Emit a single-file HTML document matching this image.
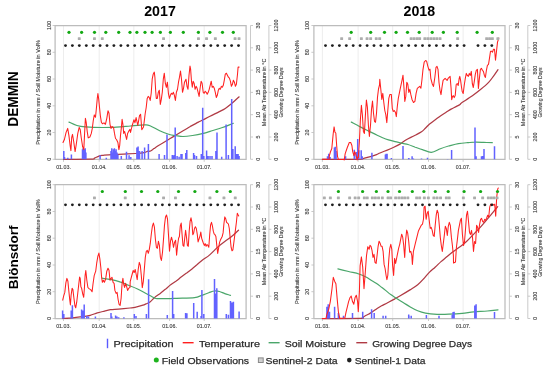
<!DOCTYPE html>
<html><head><meta charset="utf-8"><title>Demmin / Blönsdorf 2017-2018</title>
<style>html,body{margin:0;padding:0;background:#fff;overflow:hidden}svg{display:block}</style>
</head><body>
<svg width="550" height="372" viewBox="0 0 550 372" font-family='"Liberation Sans", Arial, sans-serif'>
<rect width="550" height="372" fill="#fff"/>
<text x="160" y="15.9" font-size="14.2" font-weight="bold" text-anchor="middle" fill="#000">2017</text>
<text x="419.3" y="15.9" font-size="14.2" font-weight="bold" text-anchor="middle" fill="#000">2018</text>
<text transform="translate(18.1,99) rotate(-90)" font-size="14" font-weight="bold" text-anchor="middle" fill="#000" textLength="55.5" lengthAdjust="spacingAndGlyphs">DEMMIN</text>
<text transform="translate(18.4,257.3) rotate(-90)" font-size="13.5" font-weight="bold" text-anchor="middle" fill="#000">Blönsdorf</text>
<g>
<line x1="63.5" y1="25.5" x2="63.5" y2="159.3" stroke="#e8e8e8" stroke-width="0.8"/>
<line x1="63.5" y1="159.3" x2="63.5" y2="161.8" stroke="#bcbcbc" stroke-width="0.8"/>
<line x1="99.2" y1="25.5" x2="99.2" y2="159.3" stroke="#e8e8e8" stroke-width="0.8"/>
<line x1="99.2" y1="159.3" x2="99.2" y2="161.8" stroke="#bcbcbc" stroke-width="0.8"/>
<line x1="133.8" y1="25.5" x2="133.8" y2="159.3" stroke="#e8e8e8" stroke-width="0.8"/>
<line x1="133.8" y1="159.3" x2="133.8" y2="161.8" stroke="#bcbcbc" stroke-width="0.8"/>
<line x1="169.6" y1="25.5" x2="169.6" y2="159.3" stroke="#e8e8e8" stroke-width="0.8"/>
<line x1="169.6" y1="159.3" x2="169.6" y2="161.8" stroke="#bcbcbc" stroke-width="0.8"/>
<line x1="204.2" y1="25.5" x2="204.2" y2="159.3" stroke="#e8e8e8" stroke-width="0.8"/>
<line x1="204.2" y1="159.3" x2="204.2" y2="161.8" stroke="#bcbcbc" stroke-width="0.8"/>
<path d="M55.1 25.5H246.1V159.3H55.1Z" fill="none" stroke="#bcbcbc" stroke-width="1.25"/>
<line x1="52.6" y1="159.3" x2="55.1" y2="159.3" stroke="#bcbcbc" stroke-width="0.8"/>
<text transform="translate(50.5,159.3) rotate(-90)" font-size="5.3" text-anchor="middle" fill="#454545" stroke="#454545" stroke-width="0.13">0</text>
<line x1="52.6" y1="132.5" x2="55.1" y2="132.5" stroke="#bcbcbc" stroke-width="0.8"/>
<text transform="translate(50.5,132.5) rotate(-90)" font-size="5.3" text-anchor="middle" fill="#454545" stroke="#454545" stroke-width="0.13">20</text>
<line x1="52.6" y1="105.8" x2="55.1" y2="105.8" stroke="#bcbcbc" stroke-width="0.8"/>
<text transform="translate(50.5,105.8) rotate(-90)" font-size="5.3" text-anchor="middle" fill="#454545" stroke="#454545" stroke-width="0.13">40</text>
<line x1="52.6" y1="79" x2="55.1" y2="79" stroke="#bcbcbc" stroke-width="0.8"/>
<text transform="translate(50.5,79) rotate(-90)" font-size="5.3" text-anchor="middle" fill="#454545" stroke="#454545" stroke-width="0.13">60</text>
<line x1="52.6" y1="52.3" x2="55.1" y2="52.3" stroke="#bcbcbc" stroke-width="0.8"/>
<text transform="translate(50.5,52.3) rotate(-90)" font-size="5.3" text-anchor="middle" fill="#454545" stroke="#454545" stroke-width="0.13">80</text>
<line x1="52.6" y1="25.5" x2="55.1" y2="25.5" stroke="#bcbcbc" stroke-width="0.8"/>
<text transform="translate(50.5,25.5) rotate(-90)" font-size="5.3" text-anchor="middle" fill="#454545" stroke="#454545" stroke-width="0.13">100</text>
<text transform="translate(39.7,92.4) rotate(-90)" font-size="5.6" text-anchor="middle" fill="#454545" stroke="#454545" stroke-width="0.13">Precipitation in mm / Soil Moisture in Vol%</text>
<line x1="250.5" y1="25.5" x2="250.5" y2="159.3" stroke="#bcbcbc" stroke-width="0.8"/>
<line x1="250.5" y1="159.3" x2="253" y2="159.3" stroke="#bcbcbc" stroke-width="0.8"/>
<text transform="translate(259.9,159.3) rotate(-90)" font-size="5.3" text-anchor="middle" fill="#454545" stroke="#454545" stroke-width="0.13">0</text>
<line x1="250.5" y1="137" x2="253" y2="137" stroke="#bcbcbc" stroke-width="0.8"/>
<text transform="translate(259.9,137) rotate(-90)" font-size="5.3" text-anchor="middle" fill="#454545" stroke="#454545" stroke-width="0.13">5</text>
<line x1="250.5" y1="114.7" x2="253" y2="114.7" stroke="#bcbcbc" stroke-width="0.8"/>
<text transform="translate(259.9,114.7) rotate(-90)" font-size="5.3" text-anchor="middle" fill="#454545" stroke="#454545" stroke-width="0.13">10</text>
<line x1="250.5" y1="92.4" x2="253" y2="92.4" stroke="#bcbcbc" stroke-width="0.8"/>
<text transform="translate(259.9,92.4) rotate(-90)" font-size="5.3" text-anchor="middle" fill="#454545" stroke="#454545" stroke-width="0.13">15</text>
<line x1="250.5" y1="70.1" x2="253" y2="70.1" stroke="#bcbcbc" stroke-width="0.8"/>
<text transform="translate(259.9,70.1) rotate(-90)" font-size="5.3" text-anchor="middle" fill="#454545" stroke="#454545" stroke-width="0.13">20</text>
<line x1="250.5" y1="47.8" x2="253" y2="47.8" stroke="#bcbcbc" stroke-width="0.8"/>
<text transform="translate(259.9,47.8) rotate(-90)" font-size="5.3" text-anchor="middle" fill="#454545" stroke="#454545" stroke-width="0.13">25</text>
<line x1="250.5" y1="25.5" x2="253" y2="25.5" stroke="#bcbcbc" stroke-width="0.8"/>
<text transform="translate(259.9,25.5) rotate(-90)" font-size="5.3" text-anchor="middle" fill="#454545" stroke="#454545" stroke-width="0.13">30</text>
<text transform="translate(265.9,92.4) rotate(-90)" font-size="5.5" text-anchor="middle" fill="#454545" stroke="#454545" stroke-width="0.13">Mean Air Temperature in °C</text>
<line x1="268.9" y1="25.5" x2="268.9" y2="159.3" stroke="#bcbcbc" stroke-width="0.8"/>
<line x1="268.9" y1="159.3" x2="271.4" y2="159.3" stroke="#bcbcbc" stroke-width="0.8"/>
<text transform="translate(277.8,159.3) rotate(-90)" font-size="5.3" text-anchor="middle" fill="#454545" stroke="#454545" stroke-width="0.13">0</text>
<line x1="268.9" y1="137" x2="271.4" y2="137" stroke="#bcbcbc" stroke-width="0.8"/>
<text transform="translate(277.8,137) rotate(-90)" font-size="5.3" text-anchor="middle" fill="#454545" stroke="#454545" stroke-width="0.13">200</text>
<line x1="268.9" y1="114.7" x2="271.4" y2="114.7" stroke="#bcbcbc" stroke-width="0.8"/>
<text transform="translate(277.8,114.7) rotate(-90)" font-size="5.3" text-anchor="middle" fill="#454545" stroke="#454545" stroke-width="0.13">400</text>
<line x1="268.9" y1="92.4" x2="271.4" y2="92.4" stroke="#bcbcbc" stroke-width="0.8"/>
<text transform="translate(277.8,92.4) rotate(-90)" font-size="5.3" text-anchor="middle" fill="#454545" stroke="#454545" stroke-width="0.13">600</text>
<line x1="268.9" y1="70.1" x2="271.4" y2="70.1" stroke="#bcbcbc" stroke-width="0.8"/>
<text transform="translate(277.8,70.1) rotate(-90)" font-size="5.3" text-anchor="middle" fill="#454545" stroke="#454545" stroke-width="0.13">800</text>
<line x1="268.9" y1="47.8" x2="271.4" y2="47.8" stroke="#bcbcbc" stroke-width="0.8"/>
<text transform="translate(277.8,47.8) rotate(-90)" font-size="5.3" text-anchor="middle" fill="#454545" stroke="#454545" stroke-width="0.13">1000</text>
<line x1="268.9" y1="25.5" x2="271.4" y2="25.5" stroke="#bcbcbc" stroke-width="0.8"/>
<text transform="translate(277.8,25.5) rotate(-90)" font-size="5.3" text-anchor="middle" fill="#454545" stroke="#454545" stroke-width="0.13">1200</text>
<text transform="translate(282.9,92.4) rotate(-90)" font-size="5.1" text-anchor="middle" fill="#454545" stroke="#454545" stroke-width="0.13">Growing Degree Days</text>
<text x="63.5" y="168.5" font-size="5.3" text-anchor="middle" fill="#454545" stroke="#454545" stroke-width="0.13">01.03.</text>
<text x="99.2" y="168.5" font-size="5.3" text-anchor="middle" fill="#454545" stroke="#454545" stroke-width="0.13">01.04.</text>
<text x="133.8" y="168.5" font-size="5.3" text-anchor="middle" fill="#454545" stroke="#454545" stroke-width="0.13">01.05.</text>
<text x="169.6" y="168.5" font-size="5.3" text-anchor="middle" fill="#454545" stroke="#454545" stroke-width="0.13">01.06.</text>
<text x="204.2" y="168.5" font-size="5.3" text-anchor="middle" fill="#454545" stroke="#454545" stroke-width="0.13">01.07.</text>
<path d="M63.5 159.3C68.1 159.3 85.7 159.4 90.9 159.2C96.1 159 93.2 158.7 94.5 158.2C95.8 157.7 97.4 156.6 98.9 156.1C100.4 155.6 101.1 155.6 103.3 155.3C105.5 155.1 108.6 154.8 112 154.6C115.4 154.4 119.7 154.3 123.6 154.1C127.5 153.9 131.9 153.7 135.3 153.5C138.7 153.3 141.8 153.1 144 152.7C146.2 152.3 147.4 151.1 148.4 150.9C149.4 150.7 149.1 151.7 150 151.3C150.9 150.9 152.7 149.5 154 148.6C155.3 147.7 156.1 147.1 158.1 145.8C160.1 144.5 163.4 142.6 166.1 141C168.8 139.4 171.5 137.7 174.2 136.1C176.9 134.5 179.6 132.9 182.3 131.3C185 129.7 187.6 128 190.3 126.5C193 125 196.2 123.2 198.4 122.1C200.6 121 201.3 120.8 203.2 119.8C205.1 118.8 207.3 117.6 210 116.2C212.7 114.8 216.8 112.9 219.3 111.6C221.9 110.3 223.3 109.7 225.3 108.4C227.3 107.1 229.1 105.7 231.4 103.8C233.7 101.9 237.8 98 239.1 96.8" stroke="#b03a44" stroke-width="1.25" fill="none" stroke-linejoin="round" stroke-linecap="round"/>
<path d="M69 122.1C70.3 122.7 74.2 124.7 76.9 125.5C79.6 126.3 81.2 126.6 85.4 126.9C89.6 127.2 97.1 127.5 102.3 127.5C107.5 127.5 111.7 127.5 116.4 127.2C121.1 127 125.8 126.4 130.5 126C135.2 125.6 141.3 125 144.6 124.9C147.8 124.9 147.5 124.7 150 125.7C152.5 126.7 156.5 129.2 159.7 130.7C162.9 132.2 166.8 133.7 169.4 134.5C172 135.3 172.9 135.2 175.2 135.5C177.5 135.8 180.1 136.5 183 136.5C185.9 136.5 189.4 136 192.6 135.5C195.8 135 199.1 134.4 202.3 133.6C205.5 132.8 208.8 131.7 212 130.7C215.2 129.7 218.8 128.8 221.7 127.8C224.6 126.8 227.5 125.7 229.4 124.9C231.3 124.2 232.7 123.6 233.3 123.3" stroke="#4aa66a" stroke-width="1.2" fill="none" stroke-linejoin="round" stroke-linecap="round"/>
<path d="M63.8 159.3V150.9M64.5 159.3V157M67.8 159.3V157.8M71.4 159.3V154.4M82.5 159.3V149.2M83.1 159.3V148.3M83.8 159.3V149.2M84.5 159.3V150.9M85.2 159.3V148.3M85.9 159.3V152.6M100.1 159.3V155.2M106.3 159.3V157.8M111 159.3V150.9M111.8 159.3V148.3M112.7 159.3V152.6M113.5 159.3V149.2M114.4 159.3V148.3M115.3 159.3V150.9M116.1 159.3V149.2M117 159.3V152.6M117.9 159.3V154.4M121.3 159.3V156.1M126.5 159.3V151.8M129.1 159.3V155.2M130.8 159.3V157M136.9 159.3V147.5M138.1 159.3V146.6M139.5 159.3V150.9M142.1 159.3V150.9M144.6 159.3V147.5M148.4 159.3V144M159.1 159.3V153.9M164.5 159.3V154.9M167 159.3V134.5M172.3 159.3V154.9M173.2 159.3V155.5M174.2 159.3V154.9M175.2 159.3V127.4M177.1 159.3V155.9M179.1 159.3V156.8M181 159.3V153.9M182 159.3V153.9M185.8 159.3V152.9M186.8 159.3V150M193.6 159.3V152.9M194.5 159.3V154.9M196.5 159.3V155.9M201.3 159.3V153.9M202.7 159.3V107.8M203.8 159.3V155.9M206.6 159.3V150.4M208.1 159.3V155.9M210 159.3V155.9M212 159.3V155.9M215.9 159.3V151M217 159.3V132.6M221.7 159.3V156.8M226.1 159.3V124.5M228.4 159.3V154.9M231.7 159.3V99.1M232.9 159.3V149.1M235.2 159.3V146.2M236.2 159.3V153.9M237.2 159.3V153.9M238.1 159.3V153.9M239.1 159.3V155.9" stroke="#6262ff" stroke-width="1.5" fill="none"/>
<path d="M63 142.5 64.4 139.5 66.1 132.4 67.7 128.4 68.9 135.4 70.1 145.5 70.9 150.6 71.7 137.5 72.5 134.4 73.7 141.5 75.1 151.6 76.1 145.5 77.8 133.4 79.2 127.4 80.2 129.4 81.2 137.5 82.6 146.5 83.8 149.6 84.6 133.4 85.4 118.3 86.2 122.3 87.2 131.4 88.2 137.9 89.9 137 91.3 133.4 92.3 128.4 93.3 120.3 94.3 114.9 95.5 117.3 96.3 109.2 97.3 98.1 97.9 93.5 98.7 99.1 99.5 107.2 100.3 115.3 101.4 122.3 102.4 123.7 104 122.9 105.4 124.3 106.8 118.3 108 110.8 109 113.2 110 124.3 111 128.4 112 126.4 113.5 127.4 114.5 133.4 115.5 138.5 116.5 139.5 117.9 142.5 118.9 149.6 119.7 145.5 120.5 135.4 121.5 126.4 122.1 119.3 122.9 124.3 123.7 133.4 124.6 131.4 125.6 135.4 126.6 139.5 127.6 133.4 128.6 131.4 130 129.4 130.5 132.5 132.2 125.5 133.9 119.8 135 122.7 136.1 117.6 137.8 125.5 139.5 115.6 140.6 114.2 141.8 129.7 143.5 126.9 144.2 121.6 145.2 113.5 146.2 107.5 147.2 98.4 148.2 96.4 149.2 97.4 150.2 100.4 151.2 93.3 152.2 79.2 153.2 74.2 154.3 72.1 154.9 77.2 155.7 91.3 156.3 98.4 157.3 98.4 158.3 92.3 159.3 90.3 160.3 104.4 161.3 99.4 162.3 92.3 163.3 79.2 164.3 73.2 165.3 83.2 166.4 87.3 167.4 82.2 168.4 93.3 169.4 98.4 170.4 95.3 171.4 93.3 172.4 94.3 173.4 92.3 174.4 95.3 175.4 100.4 176.4 92.3 177.5 89.3 178.5 82.2 179.5 77.2 180.5 71.1 181.5 79.2 182.5 92.3 183.5 88.3 184.5 82.2 185 81.2 186 79.2 187 86.3 188 89.3 189 75.2 190 66.1 190.6 69.1 191.5 81.2 192.3 87.3 193.1 81.2 194.1 83.2 195.1 89.3 196.1 86.3 197.1 88.3 198.1 92.3 199.1 96.4 200.1 88.3 201.1 81.2 202.1 83.2 203.2 92.3 204.2 93.3 205.2 91.3 206.2 92.3 207.2 94.3 208.2 92.3 209.2 89.3 210.2 85.3 211.2 81.2 212.2 87.3 213.2 86.3 214.3 88.3 215.3 92.3 216.3 97.4 217.3 95.3 218.3 90.3 219.3 88.3 220.3 89.3 221.3 86.3 222.3 87.3 223.3 85.3 224.3 80.2 225.3 74.2 226.4 73.2 227.4 75.2 228.4 77.2 229.4 78.2 230.4 81.2 231.4 86.3 232.4 84.3 233.4 80.2 234.4 82.2 235.4 86.3 236.4 84.3 237.5 74.2 238.1 67.1 239.1 67.1" stroke="#ff2020" stroke-width="1.05" fill="none" stroke-linejoin="round" stroke-linecap="round"/>
<circle cx="69" cy="32.3" r="1.6" fill="#12a812"/>
<circle cx="81.6" cy="32.3" r="1.6" fill="#12a812"/>
<circle cx="94.5" cy="32.3" r="1.6" fill="#12a812"/>
<circle cx="105.8" cy="32.3" r="1.6" fill="#12a812"/>
<circle cx="118.7" cy="32.3" r="1.6" fill="#12a812"/>
<circle cx="130" cy="32.3" r="1.6" fill="#12a812"/>
<circle cx="136.9" cy="32.3" r="1.6" fill="#12a812"/>
<circle cx="145" cy="32.3" r="1.6" fill="#12a812"/>
<circle cx="152.1" cy="32.3" r="1.6" fill="#12a812"/>
<circle cx="160.4" cy="32.3" r="1.6" fill="#12a812"/>
<circle cx="170.4" cy="32.3" r="1.6" fill="#12a812"/>
<circle cx="183.3" cy="32.3" r="1.6" fill="#12a812"/>
<circle cx="198.4" cy="32.3" r="1.6" fill="#12a812"/>
<circle cx="209.9" cy="32.3" r="1.6" fill="#12a812"/>
<circle cx="222.5" cy="32.3" r="1.6" fill="#12a812"/>
<circle cx="233.3" cy="32.3" r="1.6" fill="#12a812"/>
<rect x="77.8" y="37.2" width="2.9" height="2.9" rx="0.5" fill="#adadad"/>
<rect x="93" y="37.2" width="2.9" height="2.9" rx="0.5" fill="#adadad"/>
<rect x="100.8" y="37.2" width="2.9" height="2.9" rx="0.5" fill="#adadad"/>
<rect x="162.1" y="37.2" width="2.9" height="2.9" rx="0.5" fill="#adadad"/>
<rect x="197" y="37.2" width="2.9" height="2.9" rx="0.5" fill="#adadad"/>
<rect x="205.1" y="37.2" width="2.9" height="2.9" rx="0.5" fill="#adadad"/>
<rect x="213.9" y="37.2" width="2.9" height="2.9" rx="0.5" fill="#adadad"/>
<rect x="233.6" y="37.2" width="2.9" height="2.9" rx="0.5" fill="#adadad"/>
<rect x="237.6" y="37.2" width="2.9" height="2.9" rx="0.5" fill="#adadad"/>
<circle cx="65.5" cy="45.6" r="1.42" fill="#1e1e1e"/>
<circle cx="72.4" cy="45.6" r="1.42" fill="#1e1e1e"/>
<circle cx="79.3" cy="45.6" r="1.42" fill="#1e1e1e"/>
<circle cx="86.3" cy="45.6" r="1.42" fill="#1e1e1e"/>
<circle cx="93.2" cy="45.6" r="1.42" fill="#1e1e1e"/>
<circle cx="100.1" cy="45.6" r="1.42" fill="#1e1e1e"/>
<circle cx="107" cy="45.6" r="1.42" fill="#1e1e1e"/>
<circle cx="113.9" cy="45.6" r="1.42" fill="#1e1e1e"/>
<circle cx="120.9" cy="45.6" r="1.42" fill="#1e1e1e"/>
<circle cx="127.8" cy="45.6" r="1.42" fill="#1e1e1e"/>
<circle cx="134.7" cy="45.6" r="1.42" fill="#1e1e1e"/>
<circle cx="141.6" cy="45.6" r="1.42" fill="#1e1e1e"/>
<circle cx="148.5" cy="45.6" r="1.42" fill="#1e1e1e"/>
<circle cx="155.5" cy="45.6" r="1.42" fill="#1e1e1e"/>
<circle cx="162.4" cy="45.6" r="1.42" fill="#1e1e1e"/>
<circle cx="169.3" cy="45.6" r="1.42" fill="#1e1e1e"/>
<circle cx="176.2" cy="45.6" r="1.42" fill="#1e1e1e"/>
<circle cx="183.1" cy="45.6" r="1.42" fill="#1e1e1e"/>
<circle cx="190.1" cy="45.6" r="1.42" fill="#1e1e1e"/>
<circle cx="197" cy="45.6" r="1.42" fill="#1e1e1e"/>
<circle cx="203.9" cy="45.6" r="1.42" fill="#1e1e1e"/>
<circle cx="210.8" cy="45.6" r="1.42" fill="#1e1e1e"/>
<circle cx="217.7" cy="45.6" r="1.42" fill="#1e1e1e"/>
<circle cx="224.7" cy="45.6" r="1.42" fill="#1e1e1e"/>
<circle cx="231.6" cy="45.6" r="1.42" fill="#1e1e1e"/>
<circle cx="238.5" cy="45.6" r="1.42" fill="#1e1e1e"/>
</g>
<g>
<line x1="322.4" y1="25.5" x2="322.4" y2="159.3" stroke="#e8e8e8" stroke-width="0.8"/>
<line x1="322.4" y1="159.3" x2="322.4" y2="161.8" stroke="#bcbcbc" stroke-width="0.8"/>
<line x1="358.1" y1="25.5" x2="358.1" y2="159.3" stroke="#e8e8e8" stroke-width="0.8"/>
<line x1="358.1" y1="159.3" x2="358.1" y2="161.8" stroke="#bcbcbc" stroke-width="0.8"/>
<line x1="392.7" y1="25.5" x2="392.7" y2="159.3" stroke="#e8e8e8" stroke-width="0.8"/>
<line x1="392.7" y1="159.3" x2="392.7" y2="161.8" stroke="#bcbcbc" stroke-width="0.8"/>
<line x1="428.5" y1="25.5" x2="428.5" y2="159.3" stroke="#e8e8e8" stroke-width="0.8"/>
<line x1="428.5" y1="159.3" x2="428.5" y2="161.8" stroke="#bcbcbc" stroke-width="0.8"/>
<line x1="463.1" y1="25.5" x2="463.1" y2="159.3" stroke="#e8e8e8" stroke-width="0.8"/>
<line x1="463.1" y1="159.3" x2="463.1" y2="161.8" stroke="#bcbcbc" stroke-width="0.8"/>
<path d="M313.9 25.5H505V159.3H313.9Z" fill="none" stroke="#bcbcbc" stroke-width="1.25"/>
<line x1="311.4" y1="159.3" x2="313.9" y2="159.3" stroke="#bcbcbc" stroke-width="0.8"/>
<text transform="translate(309.3,159.3) rotate(-90)" font-size="5.3" text-anchor="middle" fill="#454545" stroke="#454545" stroke-width="0.13">0</text>
<line x1="311.4" y1="132.5" x2="313.9" y2="132.5" stroke="#bcbcbc" stroke-width="0.8"/>
<text transform="translate(309.3,132.5) rotate(-90)" font-size="5.3" text-anchor="middle" fill="#454545" stroke="#454545" stroke-width="0.13">20</text>
<line x1="311.4" y1="105.8" x2="313.9" y2="105.8" stroke="#bcbcbc" stroke-width="0.8"/>
<text transform="translate(309.3,105.8) rotate(-90)" font-size="5.3" text-anchor="middle" fill="#454545" stroke="#454545" stroke-width="0.13">40</text>
<line x1="311.4" y1="79" x2="313.9" y2="79" stroke="#bcbcbc" stroke-width="0.8"/>
<text transform="translate(309.3,79) rotate(-90)" font-size="5.3" text-anchor="middle" fill="#454545" stroke="#454545" stroke-width="0.13">60</text>
<line x1="311.4" y1="52.3" x2="313.9" y2="52.3" stroke="#bcbcbc" stroke-width="0.8"/>
<text transform="translate(309.3,52.3) rotate(-90)" font-size="5.3" text-anchor="middle" fill="#454545" stroke="#454545" stroke-width="0.13">80</text>
<line x1="311.4" y1="25.5" x2="313.9" y2="25.5" stroke="#bcbcbc" stroke-width="0.8"/>
<text transform="translate(309.3,25.5) rotate(-90)" font-size="5.3" text-anchor="middle" fill="#454545" stroke="#454545" stroke-width="0.13">100</text>
<text transform="translate(298.5,92.4) rotate(-90)" font-size="5.6" text-anchor="middle" fill="#454545" stroke="#454545" stroke-width="0.13">Precipitation in mm / Soil Moisture in Vol%</text>
<line x1="509.4" y1="25.5" x2="509.4" y2="159.3" stroke="#bcbcbc" stroke-width="0.8"/>
<line x1="509.4" y1="159.3" x2="511.9" y2="159.3" stroke="#bcbcbc" stroke-width="0.8"/>
<text transform="translate(518.8,159.3) rotate(-90)" font-size="5.3" text-anchor="middle" fill="#454545" stroke="#454545" stroke-width="0.13">0</text>
<line x1="509.4" y1="137" x2="511.9" y2="137" stroke="#bcbcbc" stroke-width="0.8"/>
<text transform="translate(518.8,137) rotate(-90)" font-size="5.3" text-anchor="middle" fill="#454545" stroke="#454545" stroke-width="0.13">5</text>
<line x1="509.4" y1="114.7" x2="511.9" y2="114.7" stroke="#bcbcbc" stroke-width="0.8"/>
<text transform="translate(518.8,114.7) rotate(-90)" font-size="5.3" text-anchor="middle" fill="#454545" stroke="#454545" stroke-width="0.13">10</text>
<line x1="509.4" y1="92.4" x2="511.9" y2="92.4" stroke="#bcbcbc" stroke-width="0.8"/>
<text transform="translate(518.8,92.4) rotate(-90)" font-size="5.3" text-anchor="middle" fill="#454545" stroke="#454545" stroke-width="0.13">15</text>
<line x1="509.4" y1="70.1" x2="511.9" y2="70.1" stroke="#bcbcbc" stroke-width="0.8"/>
<text transform="translate(518.8,70.1) rotate(-90)" font-size="5.3" text-anchor="middle" fill="#454545" stroke="#454545" stroke-width="0.13">20</text>
<line x1="509.4" y1="47.8" x2="511.9" y2="47.8" stroke="#bcbcbc" stroke-width="0.8"/>
<text transform="translate(518.8,47.8) rotate(-90)" font-size="5.3" text-anchor="middle" fill="#454545" stroke="#454545" stroke-width="0.13">25</text>
<line x1="509.4" y1="25.5" x2="511.9" y2="25.5" stroke="#bcbcbc" stroke-width="0.8"/>
<text transform="translate(518.8,25.5) rotate(-90)" font-size="5.3" text-anchor="middle" fill="#454545" stroke="#454545" stroke-width="0.13">30</text>
<text transform="translate(524.8,92.4) rotate(-90)" font-size="5.5" text-anchor="middle" fill="#454545" stroke="#454545" stroke-width="0.13">Mean Air Temperature in °C</text>
<line x1="527.8" y1="25.5" x2="527.8" y2="159.3" stroke="#bcbcbc" stroke-width="0.8"/>
<line x1="527.8" y1="159.3" x2="530.3" y2="159.3" stroke="#bcbcbc" stroke-width="0.8"/>
<text transform="translate(536.7,159.3) rotate(-90)" font-size="5.3" text-anchor="middle" fill="#454545" stroke="#454545" stroke-width="0.13">0</text>
<line x1="527.8" y1="137" x2="530.3" y2="137" stroke="#bcbcbc" stroke-width="0.8"/>
<text transform="translate(536.7,137) rotate(-90)" font-size="5.3" text-anchor="middle" fill="#454545" stroke="#454545" stroke-width="0.13">200</text>
<line x1="527.8" y1="114.7" x2="530.3" y2="114.7" stroke="#bcbcbc" stroke-width="0.8"/>
<text transform="translate(536.7,114.7) rotate(-90)" font-size="5.3" text-anchor="middle" fill="#454545" stroke="#454545" stroke-width="0.13">400</text>
<line x1="527.8" y1="92.4" x2="530.3" y2="92.4" stroke="#bcbcbc" stroke-width="0.8"/>
<text transform="translate(536.7,92.4) rotate(-90)" font-size="5.3" text-anchor="middle" fill="#454545" stroke="#454545" stroke-width="0.13">600</text>
<line x1="527.8" y1="70.1" x2="530.3" y2="70.1" stroke="#bcbcbc" stroke-width="0.8"/>
<text transform="translate(536.7,70.1) rotate(-90)" font-size="5.3" text-anchor="middle" fill="#454545" stroke="#454545" stroke-width="0.13">800</text>
<line x1="527.8" y1="47.8" x2="530.3" y2="47.8" stroke="#bcbcbc" stroke-width="0.8"/>
<text transform="translate(536.7,47.8) rotate(-90)" font-size="5.3" text-anchor="middle" fill="#454545" stroke="#454545" stroke-width="0.13">1000</text>
<line x1="527.8" y1="25.5" x2="530.3" y2="25.5" stroke="#bcbcbc" stroke-width="0.8"/>
<text transform="translate(536.7,25.5) rotate(-90)" font-size="5.3" text-anchor="middle" fill="#454545" stroke="#454545" stroke-width="0.13">1200</text>
<text transform="translate(541.8,92.4) rotate(-90)" font-size="5.1" text-anchor="middle" fill="#454545" stroke="#454545" stroke-width="0.13">Growing Degree Days</text>
<text x="322.4" y="168.5" font-size="5.3" text-anchor="middle" fill="#454545" stroke="#454545" stroke-width="0.13">01.03.</text>
<text x="358.1" y="168.5" font-size="5.3" text-anchor="middle" fill="#454545" stroke="#454545" stroke-width="0.13">01.04.</text>
<text x="392.7" y="168.5" font-size="5.3" text-anchor="middle" fill="#454545" stroke="#454545" stroke-width="0.13">01.05.</text>
<text x="428.5" y="168.5" font-size="5.3" text-anchor="middle" fill="#454545" stroke="#454545" stroke-width="0.13">01.06.</text>
<text x="463.1" y="168.5" font-size="5.3" text-anchor="middle" fill="#454545" stroke="#454545" stroke-width="0.13">01.07.</text>
<path d="M322.4 159.3C328.4 159.3 351.3 159.6 358.3 159.4C365.3 159.2 362.4 158.7 364.4 158.2C366.4 157.7 368.5 157.2 370.5 156.6C372.5 156 374.9 155.2 376.5 154.6C378.1 154 378.3 153.7 380 153C381.7 152.3 384.5 151.2 386.7 150.3C388.9 149.4 391.1 148.5 393.3 147.5C395.5 146.5 398 145.3 400 144.1C402 142.9 403.6 141.4 405.4 140.3C407.2 139.2 409 138.3 410.8 137.4C412.6 136.5 414.4 135.6 416.2 134.7C418 133.8 419.9 132.9 421.5 131.8C423.1 130.7 424.2 129.3 425.6 128C427 126.7 428 125.2 429.6 123.9C431.2 122.6 433.2 121.2 435 119.9C436.8 118.6 438.6 117.1 440.4 115.9C442.2 114.7 444 113.6 445.8 112.5C447.6 111.4 449.3 110.1 451.1 109.1C452.9 108.1 455 107.2 456.5 106.4C458 105.6 459.1 105.1 460 104.4C460.9 103.8 459.9 103.9 462 102.5C464.1 101.1 469.3 98 472.4 95.8C475.5 93.6 477.8 91.8 480.5 89.6C483.2 87.4 486.4 84.7 488.6 82.4C490.8 80.1 492.3 77.7 493.9 75.6C495.5 73.5 497.3 70.7 498 69.7" stroke="#b03a44" stroke-width="1.25" fill="none" stroke-linejoin="round" stroke-linecap="round"/>
<path d="M351.3 122.1C352.8 122.9 357.4 125.4 360.3 126.9C363.2 128.4 365.9 129.7 368.7 131.1C371.5 132.5 374.4 134 377.2 135.3C380 136.6 382.9 138 385.7 139C388.5 140 391.3 140.6 394.1 141.3C396.9 142 400.3 142.9 402.6 143.4C404.9 143.9 405.9 143.9 408 144.5C410.1 145.1 412.8 146.3 415.2 147.2C417.6 148 419.7 148.8 422.4 149.6C425.1 150.4 428.4 152.5 431.4 152.3C434.4 152.2 437.4 149.8 440.4 148.7C443.4 147.6 446.4 146.7 449.4 145.8C452.4 145 455.4 144.1 458.4 143.6C461.4 143.1 464.7 142.9 467.4 142.7C470.1 142.5 472 142.2 474.7 142.2C477.4 142.1 480.8 142.3 483.7 142.4C486.6 142.5 490.9 142.6 492.3 142.7" stroke="#4aa66a" stroke-width="1.2" fill="none" stroke-linejoin="round" stroke-linecap="round"/>
<path d="M327.5 159.3V156.3M328.7 159.3V153.7M330.1 159.3V157.1M334.4 159.3V147.6M335.3 159.3V146.8M336.1 159.3V151.1M345.6 159.3V156.3M354.3 159.3V149.7M356.3 159.3V152M357.7 159.3V139M358.9 159.3V150.2M361.2 159.3V150.2M362.2 159.3V156.3M371.9 159.3V152.8M385.4 159.3V154.5M386.2 159.3V153.7M387.1 159.3V153.7M391.4 159.3V158M403 159.3V145.9M408.7 159.3V158M412.1 159.3V156.3M408.9 159.3V158.1M413.4 159.3V158.4M421.5 159.3V158.4M427.5 159.3V157.7M447.6 159.3V159M451.6 159.3V149.9M475 159.3V127.4M476.1 159.3V156.3M481.5 159.3V156.3M482.8 159.3V155.9M484 159.3V149M494.5 159.3V146.3" stroke="#6262ff" stroke-width="1.5" fill="none"/>
<path d="M322.4 159.3 329.2 159.2 329.2 156.3 330.4 152 331.8 148.5 333.2 133.8 334.1 126.9 334.9 132.1 335.8 133 336.7 145.9 337.5 156.3 338.4 159.4 343.9 159.4 344.2 160 345.2 153.6 347.3 147.5 349.3 142.5 350.7 142.5 351.9 145.5 352.7 151.6 353.9 155.6 354.7 151.6 355.9 154.6 357.1 160 357.7 157.1 358.3 157.6 359.4 141.5 360.4 119.3 361.4 105.2 362.4 115.3 363.4 131.4 364.4 133.4 365.4 115.3 366.4 100.1 367.4 107.2 368.4 125.3 369.4 136.4 370.5 125.3 371.5 109.2 372.5 101.1 373.5 113.2 374.5 121.3 375.5 122.3 376.5 113.2 377.5 97.1 378.5 89 379.5 85 379.8 79.3 380.8 89.3 381.8 99.4 382.8 93.4 383.8 102.5 384.8 110.5 385.8 114.6 386.8 122.6 387.8 110.5 388.8 98.4 389.9 94.4 391.3 94.4 392.3 108.5 393.3 111.5 394.3 110.5 395.5 112.5 396.3 116.6 397.3 106.5 398.3 98.4 400.3 88.3 402 80.3 403 75.2 404 88.3 404.8 101.4 405.8 96.4 406.8 82.3 407.8 84.3 408.8 92.4 409.8 89.3 410.8 94.4 412 99.4 413.5 102.5 414.9 101.4 416.1 93.4 417.3 88.3 418.5 87.3 419.7 86.3 420.9 88.3 421.9 80.3 422.9 70.2 424.2 62.1 425.6 60.5 426.6 61.1 427.8 66.1 429 70.2 430 69.2 430.8 78.3 432.2 83.7 433.5 86.4 434.9 77 436 67.3 437 66.3 438 69.3 439 82.5 440 90.5 441 94.6 442.1 86.5 443.1 80.4 444.1 79.4 445.1 78.4 446.1 79.4 447.1 80.4 448.1 78.4 449.1 77.4 450.1 76.4 451.1 88.5 451.7 99.6 452.5 96.6 453.3 95.6 454.2 97.6 455.2 95.6 456.2 84.5 457.2 83.5 458.2 85.5 459.2 78.4 459.8 76.4 460.6 80.4 461.4 86.5 462.2 91.5 463.2 93.5 464.2 85.5 465.3 78.4 466.3 73.4 467.3 75.4 468.3 76.4 469.3 73.4 470.3 75.4 471.3 71.4 472.3 83.5 473.3 87.5 474.3 81.4 475.3 74.4 476.3 70.3 477.4 69.3 478.4 88.5 479.4 78.4 480.4 69.3 481.4 68.3 482.4 70.3 483.4 71.4 484.4 75.4 485.4 77.4 486.4 70.3 487.4 65.3 488.5 64.3 489.5 58.2 490.5 51.2 491.5 51.2 492.5 52.2 493.5 49.2 494.5 49.2 495.5 60.3 496.5 51.2 497.5 42.1 498.5 39.1 498.8 38.1" stroke="#ff2020" stroke-width="1.05" fill="none" stroke-linejoin="round" stroke-linecap="round"/>
<circle cx="351.2" cy="32.3" r="1.6" fill="#12a812"/>
<circle cx="370.7" cy="32.3" r="1.6" fill="#12a812"/>
<circle cx="384.5" cy="32.3" r="1.6" fill="#12a812"/>
<circle cx="396.1" cy="32.3" r="1.6" fill="#12a812"/>
<circle cx="407.5" cy="32.3" r="1.6" fill="#12a812"/>
<circle cx="419.2" cy="32.3" r="1.6" fill="#12a812"/>
<circle cx="432.2" cy="32.3" r="1.6" fill="#12a812"/>
<circle cx="443.4" cy="32.3" r="1.6" fill="#12a812"/>
<circle cx="457.2" cy="32.3" r="1.6" fill="#12a812"/>
<circle cx="477.1" cy="32.3" r="1.6" fill="#12a812"/>
<circle cx="492.3" cy="32.3" r="1.6" fill="#12a812"/>
<rect x="340.2" y="37.2" width="2.9" height="2.9" rx="0.5" fill="#adadad"/>
<rect x="348.2" y="37.2" width="2.9" height="2.9" rx="0.5" fill="#adadad"/>
<rect x="359.9" y="37.2" width="2.9" height="2.9" rx="0.5" fill="#adadad"/>
<rect x="365.6" y="37.2" width="2.9" height="2.9" rx="0.5" fill="#adadad"/>
<rect x="369.2" y="37.2" width="2.9" height="2.9" rx="0.5" fill="#adadad"/>
<rect x="374.8" y="37.2" width="2.9" height="2.9" rx="0.5" fill="#adadad"/>
<rect x="378.2" y="37.2" width="2.9" height="2.9" rx="0.5" fill="#adadad"/>
<rect x="409.7" y="37.2" width="2.9" height="2.9" rx="0.5" fill="#adadad"/>
<rect x="412.6" y="37.2" width="2.9" height="2.9" rx="0.5" fill="#adadad"/>
<rect x="415.6" y="37.2" width="2.9" height="2.9" rx="0.5" fill="#adadad"/>
<rect x="418.2" y="37.2" width="2.9" height="2.9" rx="0.5" fill="#adadad"/>
<rect x="423.4" y="37.2" width="2.9" height="2.9" rx="0.5" fill="#adadad"/>
<rect x="426.4" y="37.2" width="2.9" height="2.9" rx="0.5" fill="#adadad"/>
<rect x="429.4" y="37.2" width="2.9" height="2.9" rx="0.5" fill="#adadad"/>
<rect x="432.4" y="37.2" width="2.9" height="2.9" rx="0.5" fill="#adadad"/>
<rect x="435.4" y="37.2" width="2.9" height="2.9" rx="0.5" fill="#adadad"/>
<rect x="438.6" y="37.2" width="2.9" height="2.9" rx="0.5" fill="#adadad"/>
<rect x="456.2" y="37.2" width="2.9" height="2.9" rx="0.5" fill="#adadad"/>
<rect x="485.2" y="37.2" width="2.9" height="2.9" rx="0.5" fill="#adadad"/>
<rect x="488.1" y="37.2" width="2.9" height="2.9" rx="0.5" fill="#adadad"/>
<rect x="490.9" y="37.2" width="2.9" height="2.9" rx="0.5" fill="#adadad"/>
<rect x="496.4" y="37.2" width="2.9" height="2.9" rx="0.5" fill="#adadad"/>
<circle cx="325.5" cy="45.6" r="1.42" fill="#1e1e1e"/>
<circle cx="332.4" cy="45.6" r="1.42" fill="#1e1e1e"/>
<circle cx="339.4" cy="45.6" r="1.42" fill="#1e1e1e"/>
<circle cx="346.3" cy="45.6" r="1.42" fill="#1e1e1e"/>
<circle cx="353.2" cy="45.6" r="1.42" fill="#1e1e1e"/>
<circle cx="360.1" cy="45.6" r="1.42" fill="#1e1e1e"/>
<circle cx="367.1" cy="45.6" r="1.42" fill="#1e1e1e"/>
<circle cx="374" cy="45.6" r="1.42" fill="#1e1e1e"/>
<circle cx="380.9" cy="45.6" r="1.42" fill="#1e1e1e"/>
<circle cx="387.9" cy="45.6" r="1.42" fill="#1e1e1e"/>
<circle cx="394.8" cy="45.6" r="1.42" fill="#1e1e1e"/>
<circle cx="401.7" cy="45.6" r="1.42" fill="#1e1e1e"/>
<circle cx="408.7" cy="45.6" r="1.42" fill="#1e1e1e"/>
<circle cx="415.6" cy="45.6" r="1.42" fill="#1e1e1e"/>
<circle cx="422.5" cy="45.6" r="1.42" fill="#1e1e1e"/>
<circle cx="429.4" cy="45.6" r="1.42" fill="#1e1e1e"/>
<circle cx="436.4" cy="45.6" r="1.42" fill="#1e1e1e"/>
<circle cx="443.3" cy="45.6" r="1.42" fill="#1e1e1e"/>
<circle cx="450.2" cy="45.6" r="1.42" fill="#1e1e1e"/>
<circle cx="457.2" cy="45.6" r="1.42" fill="#1e1e1e"/>
<circle cx="464.1" cy="45.6" r="1.42" fill="#1e1e1e"/>
<circle cx="478" cy="45.6" r="1.42" fill="#1e1e1e"/>
<circle cx="484.9" cy="45.6" r="1.42" fill="#1e1e1e"/>
<circle cx="491.8" cy="45.6" r="1.42" fill="#1e1e1e"/>
</g>
<g>
<line x1="63.5" y1="184.7" x2="63.5" y2="318.5" stroke="#e8e8e8" stroke-width="0.8"/>
<line x1="63.5" y1="318.5" x2="63.5" y2="321" stroke="#bcbcbc" stroke-width="0.8"/>
<line x1="99.2" y1="184.7" x2="99.2" y2="318.5" stroke="#e8e8e8" stroke-width="0.8"/>
<line x1="99.2" y1="318.5" x2="99.2" y2="321" stroke="#bcbcbc" stroke-width="0.8"/>
<line x1="133.8" y1="184.7" x2="133.8" y2="318.5" stroke="#e8e8e8" stroke-width="0.8"/>
<line x1="133.8" y1="318.5" x2="133.8" y2="321" stroke="#bcbcbc" stroke-width="0.8"/>
<line x1="169.6" y1="184.7" x2="169.6" y2="318.5" stroke="#e8e8e8" stroke-width="0.8"/>
<line x1="169.6" y1="318.5" x2="169.6" y2="321" stroke="#bcbcbc" stroke-width="0.8"/>
<line x1="204.2" y1="184.7" x2="204.2" y2="318.5" stroke="#e8e8e8" stroke-width="0.8"/>
<line x1="204.2" y1="318.5" x2="204.2" y2="321" stroke="#bcbcbc" stroke-width="0.8"/>
<path d="M55.1 184.7H246.1V318.5H55.1Z" fill="none" stroke="#bcbcbc" stroke-width="1.25"/>
<line x1="52.6" y1="318.5" x2="55.1" y2="318.5" stroke="#bcbcbc" stroke-width="0.8"/>
<text transform="translate(50.5,318.5) rotate(-90)" font-size="5.3" text-anchor="middle" fill="#454545" stroke="#454545" stroke-width="0.13">0</text>
<line x1="52.6" y1="291.7" x2="55.1" y2="291.7" stroke="#bcbcbc" stroke-width="0.8"/>
<text transform="translate(50.5,291.7) rotate(-90)" font-size="5.3" text-anchor="middle" fill="#454545" stroke="#454545" stroke-width="0.13">20</text>
<line x1="52.6" y1="265" x2="55.1" y2="265" stroke="#bcbcbc" stroke-width="0.8"/>
<text transform="translate(50.5,265) rotate(-90)" font-size="5.3" text-anchor="middle" fill="#454545" stroke="#454545" stroke-width="0.13">40</text>
<line x1="52.6" y1="238.2" x2="55.1" y2="238.2" stroke="#bcbcbc" stroke-width="0.8"/>
<text transform="translate(50.5,238.2) rotate(-90)" font-size="5.3" text-anchor="middle" fill="#454545" stroke="#454545" stroke-width="0.13">60</text>
<line x1="52.6" y1="211.5" x2="55.1" y2="211.5" stroke="#bcbcbc" stroke-width="0.8"/>
<text transform="translate(50.5,211.5) rotate(-90)" font-size="5.3" text-anchor="middle" fill="#454545" stroke="#454545" stroke-width="0.13">80</text>
<line x1="52.6" y1="184.7" x2="55.1" y2="184.7" stroke="#bcbcbc" stroke-width="0.8"/>
<text transform="translate(50.5,184.7) rotate(-90)" font-size="5.3" text-anchor="middle" fill="#454545" stroke="#454545" stroke-width="0.13">100</text>
<text transform="translate(39.7,251.6) rotate(-90)" font-size="5.6" text-anchor="middle" fill="#454545" stroke="#454545" stroke-width="0.13">Precipitation in mm / Soil Moisture in Vol%</text>
<line x1="250.5" y1="184.7" x2="250.5" y2="318.5" stroke="#bcbcbc" stroke-width="0.8"/>
<line x1="250.5" y1="318.5" x2="253" y2="318.5" stroke="#bcbcbc" stroke-width="0.8"/>
<text transform="translate(259.9,318.5) rotate(-90)" font-size="5.3" text-anchor="middle" fill="#454545" stroke="#454545" stroke-width="0.13">0</text>
<line x1="250.5" y1="296.2" x2="253" y2="296.2" stroke="#bcbcbc" stroke-width="0.8"/>
<text transform="translate(259.9,296.2) rotate(-90)" font-size="5.3" text-anchor="middle" fill="#454545" stroke="#454545" stroke-width="0.13">5</text>
<line x1="250.5" y1="273.9" x2="253" y2="273.9" stroke="#bcbcbc" stroke-width="0.8"/>
<text transform="translate(259.9,273.9) rotate(-90)" font-size="5.3" text-anchor="middle" fill="#454545" stroke="#454545" stroke-width="0.13">10</text>
<line x1="250.5" y1="251.6" x2="253" y2="251.6" stroke="#bcbcbc" stroke-width="0.8"/>
<text transform="translate(259.9,251.6) rotate(-90)" font-size="5.3" text-anchor="middle" fill="#454545" stroke="#454545" stroke-width="0.13">15</text>
<line x1="250.5" y1="229.3" x2="253" y2="229.3" stroke="#bcbcbc" stroke-width="0.8"/>
<text transform="translate(259.9,229.3) rotate(-90)" font-size="5.3" text-anchor="middle" fill="#454545" stroke="#454545" stroke-width="0.13">20</text>
<line x1="250.5" y1="207" x2="253" y2="207" stroke="#bcbcbc" stroke-width="0.8"/>
<text transform="translate(259.9,207) rotate(-90)" font-size="5.3" text-anchor="middle" fill="#454545" stroke="#454545" stroke-width="0.13">25</text>
<line x1="250.5" y1="184.7" x2="253" y2="184.7" stroke="#bcbcbc" stroke-width="0.8"/>
<text transform="translate(259.9,184.7) rotate(-90)" font-size="5.3" text-anchor="middle" fill="#454545" stroke="#454545" stroke-width="0.13">30</text>
<text transform="translate(265.9,251.6) rotate(-90)" font-size="5.5" text-anchor="middle" fill="#454545" stroke="#454545" stroke-width="0.13">Mean Air Temperature in °C</text>
<line x1="268.9" y1="184.7" x2="268.9" y2="318.5" stroke="#bcbcbc" stroke-width="0.8"/>
<line x1="268.9" y1="318.5" x2="271.4" y2="318.5" stroke="#bcbcbc" stroke-width="0.8"/>
<text transform="translate(277.8,318.5) rotate(-90)" font-size="5.3" text-anchor="middle" fill="#454545" stroke="#454545" stroke-width="0.13">0</text>
<line x1="268.9" y1="296.2" x2="271.4" y2="296.2" stroke="#bcbcbc" stroke-width="0.8"/>
<text transform="translate(277.8,296.2) rotate(-90)" font-size="5.3" text-anchor="middle" fill="#454545" stroke="#454545" stroke-width="0.13">200</text>
<line x1="268.9" y1="273.9" x2="271.4" y2="273.9" stroke="#bcbcbc" stroke-width="0.8"/>
<text transform="translate(277.8,273.9) rotate(-90)" font-size="5.3" text-anchor="middle" fill="#454545" stroke="#454545" stroke-width="0.13">400</text>
<line x1="268.9" y1="251.6" x2="271.4" y2="251.6" stroke="#bcbcbc" stroke-width="0.8"/>
<text transform="translate(277.8,251.6) rotate(-90)" font-size="5.3" text-anchor="middle" fill="#454545" stroke="#454545" stroke-width="0.13">600</text>
<line x1="268.9" y1="229.3" x2="271.4" y2="229.3" stroke="#bcbcbc" stroke-width="0.8"/>
<text transform="translate(277.8,229.3) rotate(-90)" font-size="5.3" text-anchor="middle" fill="#454545" stroke="#454545" stroke-width="0.13">800</text>
<line x1="268.9" y1="207" x2="271.4" y2="207" stroke="#bcbcbc" stroke-width="0.8"/>
<text transform="translate(277.8,207) rotate(-90)" font-size="5.3" text-anchor="middle" fill="#454545" stroke="#454545" stroke-width="0.13">1000</text>
<line x1="268.9" y1="184.7" x2="271.4" y2="184.7" stroke="#bcbcbc" stroke-width="0.8"/>
<text transform="translate(277.8,184.7) rotate(-90)" font-size="5.3" text-anchor="middle" fill="#454545" stroke="#454545" stroke-width="0.13">1200</text>
<text transform="translate(282.9,251.6) rotate(-90)" font-size="5.1" text-anchor="middle" fill="#454545" stroke="#454545" stroke-width="0.13">Growing Degree Days</text>
<text x="63.5" y="327.7" font-size="5.3" text-anchor="middle" fill="#454545" stroke="#454545" stroke-width="0.13">01.03.</text>
<text x="99.2" y="327.7" font-size="5.3" text-anchor="middle" fill="#454545" stroke="#454545" stroke-width="0.13">01.04.</text>
<text x="133.8" y="327.7" font-size="5.3" text-anchor="middle" fill="#454545" stroke="#454545" stroke-width="0.13">01.05.</text>
<text x="169.6" y="327.7" font-size="5.3" text-anchor="middle" fill="#454545" stroke="#454545" stroke-width="0.13">01.06.</text>
<text x="204.2" y="327.7" font-size="5.3" text-anchor="middle" fill="#454545" stroke="#454545" stroke-width="0.13">01.07.</text>
<path d="M62.7 318.5C63.8 318.4 66.8 318.3 69 318.1C71.2 317.9 73.7 317.6 76.1 317.4C78.5 317.2 80.8 317 83.2 316.7C85.6 316.4 87.9 315.9 90.2 315.3C92.5 314.7 95.2 313.5 97.3 312.9C99.4 312.3 100.6 312 102.8 311.5C105 311 107.8 310.1 110.4 309.7C113 309.3 115.2 309.4 118.5 309.1C121.8 308.8 127.2 308.3 130 308C132.8 307.7 132.8 307.8 135 307.3C137.2 306.8 141.1 305.8 142.9 305.2C144.7 304.6 144.8 304.4 146 303.9C147.2 303.4 148.5 303.3 150 302.1C151.5 300.9 153.4 298.4 155.2 296.9C156.9 295.4 158.8 294.5 160.5 293.2C162.2 291.9 163.9 290.4 165.7 289C167.4 287.6 169.2 285.9 171 284.6C172.8 283.3 174.4 282.3 176.2 281C177.9 279.7 179.8 278.1 181.5 276.8C183.2 275.5 184.9 274.3 186.7 273C188.4 271.7 190.2 270.3 192 268.9C193.8 267.5 195.4 266 197.2 264.5C198.9 263 200.4 261.8 202.5 260.1C204.6 258.5 207.4 256.9 210 254.6C212.6 252.3 215.6 249 218.3 246.6C221 244.2 224 242.1 226.4 240.3C228.8 238.5 230.5 237.5 232.5 235.8C234.5 234.1 237.5 231.1 238.5 230.2" stroke="#b03a44" stroke-width="1.25" fill="none" stroke-linejoin="round" stroke-linecap="round"/>
<path d="M102.2 278.2C103.7 278.4 108.5 279 111.4 279.6C114.4 280.2 117.1 280.9 119.9 281.9C122.8 282.8 125.7 284.2 128.5 285.3C131.3 286.4 134.2 287.4 137 288.7C139.8 290 143.2 292 145.6 293.3C148 294.6 149.7 295.5 151.3 296.3C152.9 297.1 153.9 297.8 155 298.2C156.1 298.6 155.9 298.5 158 298.6C160.1 298.7 164.7 298.7 167.8 298.6C170.9 298.6 172.2 298.5 176.7 298.3C181.1 298.1 190.3 298.1 194.5 297.6C198.7 297.1 199.3 296.2 201.7 295.4C204.1 294.6 206.7 293.4 208.8 292.7C210.9 292 212.7 291.2 214.5 291C216.3 290.8 217.8 291.1 219.5 291.5C221.2 291.9 223 293 224.8 293.6C226.6 294.2 229.6 295.1 230.5 295.4" stroke="#4aa66a" stroke-width="1.2" fill="none" stroke-linejoin="round" stroke-linecap="round"/>
<path d="M62.6 318.5V310.4M63.8 318.5V313.9M71.2 318.5V310.4M72.4 318.5V305.2M81.6 318.5V309.5M82.8 318.5V310.4M84.2 318.5V304.4M86.8 318.5V316.1M88.5 318.5V316.5M95.4 318.5V316.5M111 318.5V313M111.8 318.5V316.5M115.6 318.5V315.6M117 318.5V316.5M118.7 318.5V317.3M123.9 318.5V317.3M134.3 318.5V313.9M136 318.5V316.1M146.4 318.5V313.9M148.6 318.5V279.3M167.3 318.5V315M172.6 318.5V291M173.7 318.5V314.1M185.6 318.5V312.9M186.9 318.5V313.2M193.7 318.5V302.9M197.2 318.5V311.8M201.1 318.5V315.9M201.9 318.5V290.1M203.8 318.5V314.1M214.5 318.5V279M215.2 318.5V300.8M215.9 318.5V293.6M216.8 318.5V288.3M226.3 318.5V314.1M228.4 318.5V314.7M230.5 318.5V301.1M232 318.5V302.5M233.4 318.5V301.7M239.1 318.5V311.5" stroke="#6262ff" stroke-width="1.5" fill="none"/>
<path d="M62.7 300.1 63.7 295.9 64.8 292.4 65.9 282.6 66.9 278.4 67.9 281.2 68.7 289.6 69.7 299.4 70.4 305 71.1 295.2 72.1 288.2 72.9 289.6 73.9 298 74.9 305.7 75.7 307.8 76.7 302.2 77.7 293.8 78.8 284 79.6 277 80.2 278.4 80.9 286.8 81.6 288.2 82.7 293.8 83.7 297.3 84.4 288.2 85.1 275.6 85.8 270.5 86.8 280 87.9 287.5 89.3 288.9 90.7 289.6 92.1 291.7 93 284 94.2 275.6 95.6 271.4 95.7 271.2 96.7 263.2 97.9 256.1 98.9 253.1 99.9 259.1 100.8 267.2 101.6 277.3 102.4 282.3 103.4 280.3 104.4 282.3 105.6 279.3 106.8 271.2 108 268.2 109 270.2 110 280.3 111 278.3 112 277.3 113.1 282.3 114.1 283.3 114.9 290.4 116.1 293.4 117.1 292.4 118.1 299.5 119.1 304.5 120.1 305.5 121.1 298.5 122.1 283.3 122.9 278.3 123.7 284.3 124.6 287.4 125.6 283.3 126.6 286.4 127.6 290.4 128.6 288.4 130 287.4 130.2 281.6 131.8 275.5 133.2 270.5 134.2 272.5 135.2 269.5 136.2 274.5 137.2 279.6 138.2 269.5 139.3 262.4 140.3 265.4 141.3 275.5 142.3 287.6 143.3 281.6 144.3 269.5 145.3 257.4 146.3 251.3 147.3 250.3 148.3 253.3 149.3 249.3 150.3 243.2 151.4 233.2 152.4 226.1 153.4 223.1 154.4 227.1 155.4 239.2 156.4 247.3 157.4 248.3 158.4 241.2 159.4 245.3 160.4 257.4 161.4 260.4 162.5 252.3 163.5 239.2 164.5 225.1 165.5 217 166.5 215 167.5 219 168.5 235.2 169.5 251.3 170.5 241.2 171.5 237.2 172.5 241.2 173.5 247.3 174.6 242.2 175.6 240.2 176.6 255.3 177.6 245.3 178.6 238.2 179.4 236.5 180.3 225.8 181.2 223.1 182.1 234.7 183 245.4 183.9 246.3 184.7 238.3 185.6 230.3 186.5 237.4 187.4 245.4 188.3 246.3 189.2 231.2 190.1 221.4 191 217.8 191.9 222.3 192.8 234.7 193.7 232.9 194.5 228.5 195.4 226.7 196.3 228.5 197.2 233.8 198.1 241.9 199 239.2 199.9 236.5 200.8 232.1 201.7 238.3 202.6 241 203.5 243.6 204.3 245.4 205.2 243.6 206.1 246.3 207 244.5 207.9 245.4 208.8 247.2 209.7 234.7 210.6 224.9 211.5 222.3 212.4 225.8 213.3 231.2 214.1 233.8 215 234.7 215.9 236.5 216.8 245.4 217.7 253.4 218.6 248.1 219.5 242.7 220.4 240.1 221.3 238.3 222.2 236.5 223.1 232.9 223.9 224 224.8 216.9 225.7 218.7 226.6 222.3 227.5 223.1 228.4 224 229.3 228.5 230.2 238.3 231.1 247.2 232 250.8 232.9 249.9 233.7 243.6 234.6 236.5 235.5 229.4 236.4 222.3 237.3 213.3 238.2 215.1 238.7 216" stroke="#ff2020" stroke-width="1.05" fill="none" stroke-linejoin="round" stroke-linecap="round"/>
<circle cx="102.3" cy="191.5" r="1.6" fill="#12a812"/>
<circle cx="125.3" cy="191.5" r="1.6" fill="#12a812"/>
<circle cx="141.5" cy="191.5" r="1.6" fill="#12a812"/>
<circle cx="157.8" cy="191.5" r="1.6" fill="#12a812"/>
<circle cx="178.5" cy="191.5" r="1.6" fill="#12a812"/>
<circle cx="194.9" cy="191.5" r="1.6" fill="#12a812"/>
<circle cx="216.9" cy="191.5" r="1.6" fill="#12a812"/>
<circle cx="230.3" cy="191.5" r="1.6" fill="#12a812"/>
<rect x="93" y="196.4" width="2.9" height="2.9" rx="0.5" fill="#adadad"/>
<rect x="123.8" y="196.4" width="2.9" height="2.9" rx="0.5" fill="#adadad"/>
<rect x="162.1" y="196.4" width="2.9" height="2.9" rx="0.5" fill="#adadad"/>
<rect x="174" y="196.4" width="2.9" height="2.9" rx="0.5" fill="#adadad"/>
<rect x="208.5" y="196.4" width="2.9" height="2.9" rx="0.5" fill="#adadad"/>
<rect x="222.5" y="196.4" width="2.9" height="2.9" rx="0.5" fill="#adadad"/>
<rect x="233.8" y="196.4" width="2.9" height="2.9" rx="0.5" fill="#adadad"/>
<circle cx="65.5" cy="204.8" r="1.42" fill="#1e1e1e"/>
<circle cx="72.4" cy="204.8" r="1.42" fill="#1e1e1e"/>
<circle cx="79.3" cy="204.8" r="1.42" fill="#1e1e1e"/>
<circle cx="86.3" cy="204.8" r="1.42" fill="#1e1e1e"/>
<circle cx="93.2" cy="204.8" r="1.42" fill="#1e1e1e"/>
<circle cx="100.1" cy="204.8" r="1.42" fill="#1e1e1e"/>
<circle cx="107" cy="204.8" r="1.42" fill="#1e1e1e"/>
<circle cx="113.9" cy="204.8" r="1.42" fill="#1e1e1e"/>
<circle cx="120.9" cy="204.8" r="1.42" fill="#1e1e1e"/>
<circle cx="127.8" cy="204.8" r="1.42" fill="#1e1e1e"/>
<circle cx="134.7" cy="204.8" r="1.42" fill="#1e1e1e"/>
<circle cx="141.6" cy="204.8" r="1.42" fill="#1e1e1e"/>
<circle cx="148.5" cy="204.8" r="1.42" fill="#1e1e1e"/>
<circle cx="155.5" cy="204.8" r="1.42" fill="#1e1e1e"/>
<circle cx="162.4" cy="204.8" r="1.42" fill="#1e1e1e"/>
<circle cx="169.3" cy="204.8" r="1.42" fill="#1e1e1e"/>
<circle cx="176.2" cy="204.8" r="1.42" fill="#1e1e1e"/>
<circle cx="183.1" cy="204.8" r="1.42" fill="#1e1e1e"/>
<circle cx="190.1" cy="204.8" r="1.42" fill="#1e1e1e"/>
<circle cx="197" cy="204.8" r="1.42" fill="#1e1e1e"/>
<circle cx="203.9" cy="204.8" r="1.42" fill="#1e1e1e"/>
<circle cx="210.8" cy="204.8" r="1.42" fill="#1e1e1e"/>
<circle cx="217.7" cy="204.8" r="1.42" fill="#1e1e1e"/>
<circle cx="224.7" cy="204.8" r="1.42" fill="#1e1e1e"/>
<circle cx="231.6" cy="204.8" r="1.42" fill="#1e1e1e"/>
<circle cx="238.5" cy="204.8" r="1.42" fill="#1e1e1e"/>
</g>
<g>
<line x1="322.4" y1="184.7" x2="322.4" y2="318.5" stroke="#e8e8e8" stroke-width="0.8"/>
<line x1="322.4" y1="318.5" x2="322.4" y2="321" stroke="#bcbcbc" stroke-width="0.8"/>
<line x1="358.1" y1="184.7" x2="358.1" y2="318.5" stroke="#e8e8e8" stroke-width="0.8"/>
<line x1="358.1" y1="318.5" x2="358.1" y2="321" stroke="#bcbcbc" stroke-width="0.8"/>
<line x1="392.7" y1="184.7" x2="392.7" y2="318.5" stroke="#e8e8e8" stroke-width="0.8"/>
<line x1="392.7" y1="318.5" x2="392.7" y2="321" stroke="#bcbcbc" stroke-width="0.8"/>
<line x1="428.5" y1="184.7" x2="428.5" y2="318.5" stroke="#e8e8e8" stroke-width="0.8"/>
<line x1="428.5" y1="318.5" x2="428.5" y2="321" stroke="#bcbcbc" stroke-width="0.8"/>
<line x1="463.1" y1="184.7" x2="463.1" y2="318.5" stroke="#e8e8e8" stroke-width="0.8"/>
<line x1="463.1" y1="318.5" x2="463.1" y2="321" stroke="#bcbcbc" stroke-width="0.8"/>
<path d="M313.9 184.7H505V318.5H313.9Z" fill="none" stroke="#bcbcbc" stroke-width="1.25"/>
<line x1="311.4" y1="318.5" x2="313.9" y2="318.5" stroke="#bcbcbc" stroke-width="0.8"/>
<text transform="translate(309.3,318.5) rotate(-90)" font-size="5.3" text-anchor="middle" fill="#454545" stroke="#454545" stroke-width="0.13">0</text>
<line x1="311.4" y1="291.7" x2="313.9" y2="291.7" stroke="#bcbcbc" stroke-width="0.8"/>
<text transform="translate(309.3,291.7) rotate(-90)" font-size="5.3" text-anchor="middle" fill="#454545" stroke="#454545" stroke-width="0.13">20</text>
<line x1="311.4" y1="265" x2="313.9" y2="265" stroke="#bcbcbc" stroke-width="0.8"/>
<text transform="translate(309.3,265) rotate(-90)" font-size="5.3" text-anchor="middle" fill="#454545" stroke="#454545" stroke-width="0.13">40</text>
<line x1="311.4" y1="238.2" x2="313.9" y2="238.2" stroke="#bcbcbc" stroke-width="0.8"/>
<text transform="translate(309.3,238.2) rotate(-90)" font-size="5.3" text-anchor="middle" fill="#454545" stroke="#454545" stroke-width="0.13">60</text>
<line x1="311.4" y1="211.5" x2="313.9" y2="211.5" stroke="#bcbcbc" stroke-width="0.8"/>
<text transform="translate(309.3,211.5) rotate(-90)" font-size="5.3" text-anchor="middle" fill="#454545" stroke="#454545" stroke-width="0.13">80</text>
<line x1="311.4" y1="184.7" x2="313.9" y2="184.7" stroke="#bcbcbc" stroke-width="0.8"/>
<text transform="translate(309.3,184.7) rotate(-90)" font-size="5.3" text-anchor="middle" fill="#454545" stroke="#454545" stroke-width="0.13">100</text>
<text transform="translate(298.5,251.6) rotate(-90)" font-size="5.6" text-anchor="middle" fill="#454545" stroke="#454545" stroke-width="0.13">Precipitation in mm / Soil Moisture in Vol%</text>
<line x1="509.4" y1="184.7" x2="509.4" y2="318.5" stroke="#bcbcbc" stroke-width="0.8"/>
<line x1="509.4" y1="318.5" x2="511.9" y2="318.5" stroke="#bcbcbc" stroke-width="0.8"/>
<text transform="translate(518.8,318.5) rotate(-90)" font-size="5.3" text-anchor="middle" fill="#454545" stroke="#454545" stroke-width="0.13">0</text>
<line x1="509.4" y1="296.2" x2="511.9" y2="296.2" stroke="#bcbcbc" stroke-width="0.8"/>
<text transform="translate(518.8,296.2) rotate(-90)" font-size="5.3" text-anchor="middle" fill="#454545" stroke="#454545" stroke-width="0.13">5</text>
<line x1="509.4" y1="273.9" x2="511.9" y2="273.9" stroke="#bcbcbc" stroke-width="0.8"/>
<text transform="translate(518.8,273.9) rotate(-90)" font-size="5.3" text-anchor="middle" fill="#454545" stroke="#454545" stroke-width="0.13">10</text>
<line x1="509.4" y1="251.6" x2="511.9" y2="251.6" stroke="#bcbcbc" stroke-width="0.8"/>
<text transform="translate(518.8,251.6) rotate(-90)" font-size="5.3" text-anchor="middle" fill="#454545" stroke="#454545" stroke-width="0.13">15</text>
<line x1="509.4" y1="229.3" x2="511.9" y2="229.3" stroke="#bcbcbc" stroke-width="0.8"/>
<text transform="translate(518.8,229.3) rotate(-90)" font-size="5.3" text-anchor="middle" fill="#454545" stroke="#454545" stroke-width="0.13">20</text>
<line x1="509.4" y1="207" x2="511.9" y2="207" stroke="#bcbcbc" stroke-width="0.8"/>
<text transform="translate(518.8,207) rotate(-90)" font-size="5.3" text-anchor="middle" fill="#454545" stroke="#454545" stroke-width="0.13">25</text>
<line x1="509.4" y1="184.7" x2="511.9" y2="184.7" stroke="#bcbcbc" stroke-width="0.8"/>
<text transform="translate(518.8,184.7) rotate(-90)" font-size="5.3" text-anchor="middle" fill="#454545" stroke="#454545" stroke-width="0.13">30</text>
<text transform="translate(524.8,251.6) rotate(-90)" font-size="5.5" text-anchor="middle" fill="#454545" stroke="#454545" stroke-width="0.13">Mean Air Temperature in °C</text>
<line x1="527.8" y1="184.7" x2="527.8" y2="318.5" stroke="#bcbcbc" stroke-width="0.8"/>
<line x1="527.8" y1="318.5" x2="530.3" y2="318.5" stroke="#bcbcbc" stroke-width="0.8"/>
<text transform="translate(536.7,318.5) rotate(-90)" font-size="5.3" text-anchor="middle" fill="#454545" stroke="#454545" stroke-width="0.13">0</text>
<line x1="527.8" y1="296.2" x2="530.3" y2="296.2" stroke="#bcbcbc" stroke-width="0.8"/>
<text transform="translate(536.7,296.2) rotate(-90)" font-size="5.3" text-anchor="middle" fill="#454545" stroke="#454545" stroke-width="0.13">200</text>
<line x1="527.8" y1="273.9" x2="530.3" y2="273.9" stroke="#bcbcbc" stroke-width="0.8"/>
<text transform="translate(536.7,273.9) rotate(-90)" font-size="5.3" text-anchor="middle" fill="#454545" stroke="#454545" stroke-width="0.13">400</text>
<line x1="527.8" y1="251.6" x2="530.3" y2="251.6" stroke="#bcbcbc" stroke-width="0.8"/>
<text transform="translate(536.7,251.6) rotate(-90)" font-size="5.3" text-anchor="middle" fill="#454545" stroke="#454545" stroke-width="0.13">600</text>
<line x1="527.8" y1="229.3" x2="530.3" y2="229.3" stroke="#bcbcbc" stroke-width="0.8"/>
<text transform="translate(536.7,229.3) rotate(-90)" font-size="5.3" text-anchor="middle" fill="#454545" stroke="#454545" stroke-width="0.13">800</text>
<line x1="527.8" y1="207" x2="530.3" y2="207" stroke="#bcbcbc" stroke-width="0.8"/>
<text transform="translate(536.7,207) rotate(-90)" font-size="5.3" text-anchor="middle" fill="#454545" stroke="#454545" stroke-width="0.13">1000</text>
<line x1="527.8" y1="184.7" x2="530.3" y2="184.7" stroke="#bcbcbc" stroke-width="0.8"/>
<text transform="translate(536.7,184.7) rotate(-90)" font-size="5.3" text-anchor="middle" fill="#454545" stroke="#454545" stroke-width="0.13">1200</text>
<text transform="translate(541.8,251.6) rotate(-90)" font-size="5.1" text-anchor="middle" fill="#454545" stroke="#454545" stroke-width="0.13">Growing Degree Days</text>
<text x="322.4" y="327.7" font-size="5.3" text-anchor="middle" fill="#454545" stroke="#454545" stroke-width="0.13">01.03.</text>
<text x="358.1" y="327.7" font-size="5.3" text-anchor="middle" fill="#454545" stroke="#454545" stroke-width="0.13">01.04.</text>
<text x="392.7" y="327.7" font-size="5.3" text-anchor="middle" fill="#454545" stroke="#454545" stroke-width="0.13">01.05.</text>
<text x="428.5" y="327.7" font-size="5.3" text-anchor="middle" fill="#454545" stroke="#454545" stroke-width="0.13">01.06.</text>
<text x="463.1" y="327.7" font-size="5.3" text-anchor="middle" fill="#454545" stroke="#454545" stroke-width="0.13">01.07.</text>
<path d="M322.4 318.5C328.6 318.5 353.1 318.6 359.8 318.4C366.5 318.2 361.6 317.7 362.5 317.3C363.5 316.8 364.2 316.4 365.3 315.8C366.3 315.3 367.7 314.7 368.9 314C370.1 313.3 371.2 312.7 372.5 311.8C373.9 310.9 375.6 309.5 377.1 308.5C378.6 307.5 379.8 306.8 381.6 305.8C383.5 304.8 385.9 303.7 388 302.5C390.1 301.4 392.4 300.2 394.4 299.1C396.3 298 397.2 297.5 399.8 296C402.4 294.5 407 291.8 410 289.9C413 288 415.4 286.6 417.7 284.8C419.9 283 421.6 281.1 423.5 279C425.4 276.9 427.4 274.4 429.3 272.4C431.2 270.4 433.2 269 435.1 267.2C437.1 265.4 439.1 263.3 441 261.6C442.9 259.9 444.9 258.4 446.8 256.8C448.7 255.2 450.3 253.7 452.6 252C454.9 250.3 458.1 248.2 460.4 246.5C462.7 244.8 464.5 243.3 466.5 241.5C468.5 239.7 470.5 237.5 472.5 235.4C474.5 233.3 476.6 231.3 478.6 229.1C480.6 226.9 482.6 224.6 484.6 222.3C486.6 220 488.5 217.8 490.7 215.2C492.9 212.6 496.5 208 497.7 206.6" stroke="#b03a44" stroke-width="1.25" fill="none" stroke-linejoin="round" stroke-linecap="round"/>
<path d="M337.9 268.9C339.7 269.3 345.1 270.6 348.6 271.5C352.1 272.4 355.9 273 358.9 274C361.9 275 364.5 276.3 366.5 277.3C368.5 278.3 369.1 279 370.7 280C372.3 281 374.4 282.1 376.2 283.3C378 284.5 379.9 286 381.6 287.3C383.3 288.6 384.7 289.7 386.2 290.9C387.7 292.1 389 293.3 390.7 294.5C392.4 295.7 394.1 296.8 396.2 298.2C398.3 299.6 401.1 301.2 403.5 302.7C405.9 304.2 407.9 305.6 410.3 307C412.7 308.4 415.2 309.8 417.7 310.8C420.2 311.8 422.3 312.5 425.5 313.1C428.7 313.7 433.2 314.1 437.1 314.3C441 314.5 444.5 314.4 448.7 314.2C452.9 314 458 313.7 462.2 313.3C466.4 312.9 469.6 312.3 473.8 311.9C478 311.5 483.4 311.4 487.4 311C491.4 310.6 496.2 310 498 309.8" stroke="#4aa66a" stroke-width="1.2" fill="none" stroke-linejoin="round" stroke-linecap="round"/>
<path d="M326.9 318.5V306.7M328.2 318.5V304.2M329.5 318.5V311.8M334.6 318.5V306.7M338.4 318.5V313.1M343.5 318.5V315.7M352.5 318.5V313.1M362.7 318.5V311.8M371.6 318.5V309.3M374.2 318.5V313.1M383.1 318.5V315.7M385.7 318.5V315.7M408.7 318.5V314.4M411.2 318.5V315.7M408.9 318.5V315.8M426.4 318.5V314.9M439 318.5V315.8M452.2 318.5V314.9M453.1 318.5V312.1M454.1 318.5V311.7M474.8 318.5V305.5M476.1 318.5V304.2M494.5 318.5V312.1" stroke="#6262ff" stroke-width="1.5" fill="none"/>
<path d="M322.4 318.5 326 318.4 326.9 314.4 328.7 309.3 330.3 301.6 332 288.8 333.3 277.3 334.6 281.2 335.9 283.7 337.2 299.1 338.4 311.8 339.7 318.2 344.8 318.2 346.1 311.8 347.4 306.7 348.6 301.6 349.9 297.8 351.2 296 352.5 301.6 353.8 304.2 355 297.8 356.3 295.2 357.6 301.6 358.3 311.8 359.4 291.4 360.1 265.9 361.4 256.9 362.7 267.1 364 288.8 365.2 273.5 366.5 255.6 367.8 246.7 369.1 249.3 370 245.3 371 246.3 372 250.3 373 257.4 374 254.3 375 262.4 376.1 263.4 377.1 255.3 378.1 246.3 379.1 241.2 380.1 243.2 381.1 246.3 382.1 246.3 383.1 251.3 384.1 264.4 385.1 268.5 386.1 275.5 386.9 279.6 387.8 275.5 388.8 259.4 389.8 248.3 390.8 244.3 391.8 249.3 392.6 265.4 393.6 275.5 394.6 258.4 395.6 263.4 396.6 258.4 397.6 253.3 398.6 248.3 399.7 244.3 400.7 239.2 401.7 234.2 402.7 237.2 403.7 245.3 404.7 257.4 405.7 239.2 406.7 230.1 407.7 233.2 408.7 241.2 409.7 252.3 410.8 251.3 411.8 255.3 412.4 264.4 413.4 251.3 414.4 247.3 415.4 243.2 416.4 239.2 417.4 235.2 418.4 231.1 419.4 229.1 420.4 227.1 421.4 225.1 422.5 224.1 423.5 219 424.1 207.2 425.1 206.2 426.1 219.3 427.2 213.2 428.2 211.2 429.2 220.3 430.2 228.4 431.2 227.3 432.2 230.4 433.2 235.4 434.2 236.4 435.2 225.3 436.2 215.2 437.2 210.2 438.2 213.2 439.3 225.3 440.3 237.4 441.3 245.5 442.3 251.5 443.3 243.5 444.3 235.4 445.3 226.3 446.3 228.4 447.3 235.4 448.3 226.3 449.3 222.3 450.3 225.3 451.4 237.4 452.4 245.5 453.4 255.6 453.5 263 455.5 262 456.4 247.5 457.4 239.4 458.4 230.4 459.4 225.3 460.4 220.3 461.4 218.3 462.4 234.4 463.5 245.5 464.5 241.5 465.5 229.4 466.5 215.2 467.5 211.2 468.5 221.3 469.5 232.4 470.5 234.4 471.5 230.4 472.5 237.4 473.5 251.5 474.5 241.5 475.6 243.5 476.6 225.3 477.6 227.3 478.6 232.4 479.6 224.3 480.6 219.3 481.6 218.3 482.6 221.3 483.6 222.3 484.6 219.3 485.6 220.3 486.6 218.3 487.7 215.2 488.7 217.3 489.7 207.2 490.7 204.2 491.7 205.2 492.7 204.2 493.7 205.2 494.7 204.2 495.7 216.3 496.7 197.1 497.7 189 498.3 188" stroke="#ff2020" stroke-width="1.05" fill="none" stroke-linejoin="round" stroke-linecap="round"/>
<circle cx="338.4" cy="191.5" r="1.6" fill="#12a812"/>
<circle cx="362.6" cy="191.5" r="1.6" fill="#12a812"/>
<circle cx="376.4" cy="191.5" r="1.6" fill="#12a812"/>
<circle cx="388" cy="191.5" r="1.6" fill="#12a812"/>
<circle cx="399.5" cy="191.5" r="1.6" fill="#12a812"/>
<circle cx="412.3" cy="191.5" r="1.6" fill="#12a812"/>
<circle cx="423.9" cy="191.5" r="1.6" fill="#12a812"/>
<circle cx="435.3" cy="191.5" r="1.6" fill="#12a812"/>
<circle cx="448.2" cy="191.5" r="1.6" fill="#12a812"/>
<circle cx="464.1" cy="191.5" r="1.6" fill="#12a812"/>
<circle cx="480.6" cy="191.5" r="1.6" fill="#12a812"/>
<circle cx="497.5" cy="191.5" r="1.6" fill="#12a812"/>
<rect x="322.9" y="196.4" width="2.9" height="2.9" rx="0.5" fill="#adadad"/>
<rect x="328.9" y="196.4" width="2.9" height="2.9" rx="0.5" fill="#adadad"/>
<rect x="336.9" y="196.4" width="2.9" height="2.9" rx="0.5" fill="#adadad"/>
<rect x="348.2" y="196.4" width="2.9" height="2.9" rx="0.5" fill="#adadad"/>
<rect x="353.7" y="196.4" width="2.9" height="2.9" rx="0.5" fill="#adadad"/>
<rect x="357.2" y="196.4" width="2.9" height="2.9" rx="0.5" fill="#adadad"/>
<rect x="362.9" y="196.4" width="2.9" height="2.9" rx="0.5" fill="#adadad"/>
<rect x="365.8" y="196.4" width="2.9" height="2.9" rx="0.5" fill="#adadad"/>
<rect x="370.9" y="196.4" width="2.9" height="2.9" rx="0.5" fill="#adadad"/>
<rect x="373.9" y="196.4" width="2.9" height="2.9" rx="0.5" fill="#adadad"/>
<rect x="377.1" y="196.4" width="2.9" height="2.9" rx="0.5" fill="#adadad"/>
<rect x="380.9" y="196.4" width="2.9" height="2.9" rx="0.5" fill="#adadad"/>
<rect x="386.6" y="196.4" width="2.9" height="2.9" rx="0.5" fill="#adadad"/>
<rect x="389.2" y="196.4" width="2.9" height="2.9" rx="0.5" fill="#adadad"/>
<rect x="394.2" y="196.4" width="2.9" height="2.9" rx="0.5" fill="#adadad"/>
<rect x="397.4" y="196.4" width="2.9" height="2.9" rx="0.5" fill="#adadad"/>
<rect x="400.4" y="196.4" width="2.9" height="2.9" rx="0.5" fill="#adadad"/>
<rect x="403.2" y="196.4" width="2.9" height="2.9" rx="0.5" fill="#adadad"/>
<rect x="406.4" y="196.4" width="2.9" height="2.9" rx="0.5" fill="#adadad"/>
<rect x="415.2" y="196.4" width="2.9" height="2.9" rx="0.5" fill="#adadad"/>
<rect x="418.2" y="196.4" width="2.9" height="2.9" rx="0.5" fill="#adadad"/>
<rect x="422.9" y="196.4" width="2.9" height="2.9" rx="0.5" fill="#adadad"/>
<rect x="426.9" y="196.4" width="2.9" height="2.9" rx="0.5" fill="#adadad"/>
<rect x="432.4" y="196.4" width="2.9" height="2.9" rx="0.5" fill="#adadad"/>
<rect x="435.6" y="196.4" width="2.9" height="2.9" rx="0.5" fill="#adadad"/>
<rect x="439.1" y="196.4" width="2.9" height="2.9" rx="0.5" fill="#adadad"/>
<rect x="444.9" y="196.4" width="2.9" height="2.9" rx="0.5" fill="#adadad"/>
<rect x="447.7" y="196.4" width="2.9" height="2.9" rx="0.5" fill="#adadad"/>
<rect x="461.9" y="196.4" width="2.9" height="2.9" rx="0.5" fill="#adadad"/>
<rect x="473.1" y="196.4" width="2.9" height="2.9" rx="0.5" fill="#adadad"/>
<rect x="481.2" y="196.4" width="2.9" height="2.9" rx="0.5" fill="#adadad"/>
<rect x="486.9" y="196.4" width="2.9" height="2.9" rx="0.5" fill="#adadad"/>
<rect x="489.9" y="196.4" width="2.9" height="2.9" rx="0.5" fill="#adadad"/>
<rect x="492.6" y="196.4" width="2.9" height="2.9" rx="0.5" fill="#adadad"/>
<rect x="495.6" y="196.4" width="2.9" height="2.9" rx="0.5" fill="#adadad"/>
<circle cx="325.5" cy="204.8" r="1.42" fill="#1e1e1e"/>
<circle cx="332.4" cy="204.8" r="1.42" fill="#1e1e1e"/>
<circle cx="339.4" cy="204.8" r="1.42" fill="#1e1e1e"/>
<circle cx="346.3" cy="204.8" r="1.42" fill="#1e1e1e"/>
<circle cx="353.2" cy="204.8" r="1.42" fill="#1e1e1e"/>
<circle cx="360.1" cy="204.8" r="1.42" fill="#1e1e1e"/>
<circle cx="367.1" cy="204.8" r="1.42" fill="#1e1e1e"/>
<circle cx="374" cy="204.8" r="1.42" fill="#1e1e1e"/>
<circle cx="380.9" cy="204.8" r="1.42" fill="#1e1e1e"/>
<circle cx="387.9" cy="204.8" r="1.42" fill="#1e1e1e"/>
<circle cx="394.8" cy="204.8" r="1.42" fill="#1e1e1e"/>
<circle cx="401.7" cy="204.8" r="1.42" fill="#1e1e1e"/>
<circle cx="408.7" cy="204.8" r="1.42" fill="#1e1e1e"/>
<circle cx="415.6" cy="204.8" r="1.42" fill="#1e1e1e"/>
<circle cx="422.5" cy="204.8" r="1.42" fill="#1e1e1e"/>
<circle cx="429.4" cy="204.8" r="1.42" fill="#1e1e1e"/>
<circle cx="436.4" cy="204.8" r="1.42" fill="#1e1e1e"/>
<circle cx="443.3" cy="204.8" r="1.42" fill="#1e1e1e"/>
<circle cx="450.2" cy="204.8" r="1.42" fill="#1e1e1e"/>
<circle cx="457.2" cy="204.8" r="1.42" fill="#1e1e1e"/>
<circle cx="464.1" cy="204.8" r="1.42" fill="#1e1e1e"/>
<circle cx="478" cy="204.8" r="1.42" fill="#1e1e1e"/>
<circle cx="484.9" cy="204.8" r="1.42" fill="#1e1e1e"/>
<circle cx="491.8" cy="204.8" r="1.42" fill="#1e1e1e"/>
</g>
<line x1="107.5" y1="338.7" x2="107.5" y2="348.2" stroke="#5a5aff" stroke-width="1.4"/>
<text x="113.6" y="346.9" font-size="9.9" fill="#2a2a2a" stroke="#2a2a2a" stroke-width="0.25" lengthAdjust="spacingAndGlyphs" textLength="60">Precipitation</text>
<line x1="182.7" y1="342.7" x2="193.6" y2="342.7" stroke="#ff1e1e" stroke-width="1.4"/>
<text x="199" y="346.9" font-size="9.9" fill="#2a2a2a" stroke="#2a2a2a" stroke-width="0.25" lengthAdjust="spacingAndGlyphs" textLength="61">Temperature</text>
<line x1="268.6" y1="342.7" x2="279.6" y2="342.7" stroke="#4aa66a" stroke-width="1.4"/>
<text x="284.7" y="346.9" font-size="9.9" fill="#2a2a2a" stroke="#2a2a2a" stroke-width="0.25" lengthAdjust="spacingAndGlyphs" textLength="61.3">Soil Moisture</text>
<line x1="356.3" y1="342.7" x2="367.2" y2="342.7" stroke="#b03a44" stroke-width="1.4"/>
<text x="372.2" y="346.9" font-size="9.9" fill="#2a2a2a" stroke="#2a2a2a" stroke-width="0.25" lengthAdjust="spacingAndGlyphs" textLength="99.8">Growing Degree Days</text>
<circle cx="156.3" cy="360.1" r="2.5" fill="#1db31d"/>
<text x="161.8" y="364.2" font-size="9.9" fill="#2a2a2a" stroke="#2a2a2a" stroke-width="0.25" lengthAdjust="spacingAndGlyphs" textLength="87.3">Field Observations</text>
<rect x="258.4" y="357.9" width="4.8" height="4.6" fill="#cfcfcf" stroke="#8a8a8a" stroke-width="1"/>
<text x="265.5" y="364.2" font-size="9.9" fill="#2a2a2a" stroke="#2a2a2a" stroke-width="0.25" lengthAdjust="spacingAndGlyphs" textLength="72.2">Sentinel-2 Data</text>
<circle cx="349.3" cy="360.1" r="2.3" fill="#222"/>
<text x="354.7" y="364.2" font-size="9.9" fill="#2a2a2a" stroke="#2a2a2a" stroke-width="0.25" lengthAdjust="spacingAndGlyphs" textLength="70.9">Sentinel-1 Data</text>
</svg>
</body></html>
